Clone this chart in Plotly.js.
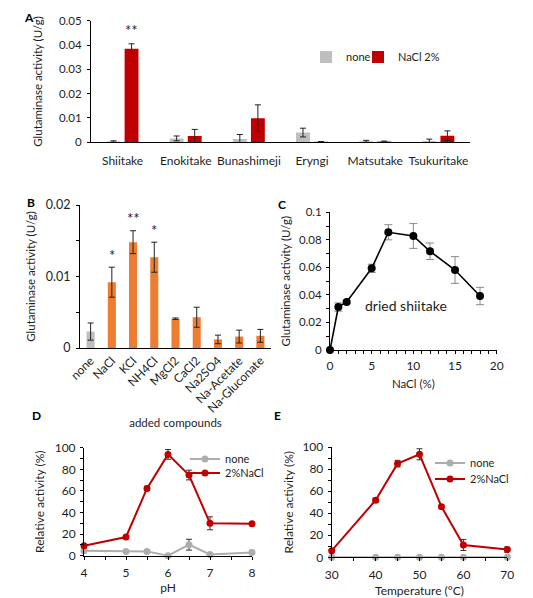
<!DOCTYPE html>
<html>
<head>
<meta charset="utf-8">
<script src="https://cdn.plot.ly/plotly-3.0.1.min.js"></script>
<style>
  html, body { margin: 0; padding: 0; background: #fff; }
  #chart { width: 533px; height: 598px; }
</style>
</head>
<body>
<div id="chart"></div>
<script>
// Panel A — glutaminase activity per mushroom, with / without 2% NaCl
const mushrooms = ['Shiitake', 'Enokitake', 'Bunashimeji', 'Eryngi', 'Matsutake', 'Tsukuritake'];
const noneA = [0.0003, 0.0016, 0.0014, 0.0040, 0.0004, 0.0005];
const noneAErr = [0.0003, 0.0010, 0.0018, 0.0018, 0.0004, 0.0008];
const naclA = [0.0385, 0.0026, 0.0099, 0.0002, 0.0003, 0.0027];
const naclAErr = [0.0020, 0.0027, 0.0055, 0.0001, 0.0002, 0.0020];
const starsA = ['**', '', '', '', '', ''];

// Panel B — added compounds
const compounds = ['none', 'NaCl', 'KCl', 'NH4Cl', 'MgCl2', 'CaCl2', 'Na2SO4', 'Na-Acetate', 'Na-Gluconate'];
const compVals = [0.0023, 0.0092, 0.0148, 0.0127, 0.0041, 0.0043, 0.0012, 0.0016, 0.0017];
const compErr = [0.0012, 0.0021, 0.0016, 0.0021, 0.0001, 0.0014, 0.0006, 0.0009, 0.0009];
const starsB = ['', '*', '**', '*', '', '', '', '', ''];

// Panel C — NaCl concentration, dried shiitake
const naclPct = [0, 1, 2, 5, 7, 10, 12, 15, 18];
const shiitakeAct = [0, 0.0312, 0.0349, 0.0593, 0.0855, 0.0828, 0.0717, 0.0581, 0.0392];
const shiitakeErr = [0, 0.0030, 0.0010, 0.0030, 0.0055, 0.0090, 0.0060, 0.0097, 0.0063];

// Panel D — pH
const pH = [4, 5, 5.5, 6, 6.5, 7, 8];
const pHNone = [4.6, 4.0, 4.0, 0, 10.2, 1.2, 3.0];
const pHNoneErr = [1.0, 0.5, 1.5, 0.5, 5.0, 0.5, 2.0];
const pHNacl = [9.3, 17.3, 62.3, 93.8, 74.7, 30.0, 29.6];
const pHNaclErr = [1.0, 1.0, 2.0, 4.5, 4.5, 6.0, 1.0];

// Panel E — temperature
const temps = [30, 40, 45, 50, 55, 60, 70];
const tempNone = [0, 0, 0, 0, 0, 0, 0];
const tempNacl = [6.0, 51.7, 84.9, 93.4, 45.9, 11.2, 7.0];
const tempNaclErr = [1.0, 2.0, 3.0, 5.0, 1.5, 5.0, 2.5];

const W = 533, H = 598;
const FONT = 'Lato, "Liberation Sans", Arial, sans-serif';
const TXT = '#1e1e1e';
const RED = '#C00000', GRAY = '#BFBFBF', ORANGE = '#ED7D31', LGRAY = '#ADADAD';

// pixel box -> paper domain
const dx = (a, b) => [a / W, b / W];
const dy = (bottom, top) => [1 - bottom / H, 1 - top / H];
const px = (v) => v / W;
const py = (v) => 1 - v / H;

const errBar = (arr, color, w) => ({ type: 'data', array: arr, visible: true, color: color || '#222', thickness: 1, width: w || 3 });

const traces = [
  // A
  { type: 'bar', x: mushrooms, y: noneA, name: 'none', xaxis: 'x', yaxis: 'y',
    width: 0.22, offset: -0.254, marker: { color: GRAY }, error_y: errBar(noneAErr), legend: 'legend' },
  { type: 'bar', x: mushrooms, y: naclA, name: 'NaCl 2%', xaxis: 'x', yaxis: 'y',
    width: 0.22, offset: 0.032, marker: { color: RED }, error_y: errBar(naclAErr), legend: 'legend2' },
  // B
  { type: 'bar', x: compounds, y: compVals, xaxis: 'x2', yaxis: 'y2', showlegend: false,
    width: 0.38, offset: -0.19, marker: { color: compounds.map((c) => (c === 'none' ? GRAY : ORANGE)) },
    error_y: errBar(compErr) },
  // C
  { type: 'scatter', mode: 'lines+markers', x: naclPct, y: shiitakeAct, xaxis: 'x3', yaxis: 'y3', showlegend: false,
    line: { color: '#000', width: 1.6 }, marker: { color: '#000', size: 8 }, cliponaxis: false,
    error_y: errBar(shiitakeErr, '#8a8a8a', 4) },
  // D
  { type: 'scatter', mode: 'lines+markers', x: pH, y: pHNone, name: 'none', xaxis: 'x4', yaxis: 'y4',
    line: { color: LGRAY, width: 2 }, marker: { color: LGRAY, size: 7 }, cliponaxis: false,
    error_y: errBar(pHNoneErr, '#333', 3), legend: 'legend3' },
  { type: 'scatter', mode: 'lines+markers', x: pH, y: pHNacl, name: '2%NaCl', xaxis: 'x4', yaxis: 'y4',
    line: { color: RED, width: 2 }, marker: { color: RED, size: 7 }, cliponaxis: false,
    error_y: errBar(pHNaclErr, '#333', 3), legend: 'legend4' },
  // E
  { type: 'scatter', mode: 'lines+markers', x: temps, y: tempNone, name: 'none', xaxis: 'x5', yaxis: 'y5',
    line: { color: LGRAY, width: 2 }, marker: { color: LGRAY, size: 7 }, cliponaxis: false, legend: 'legend5' },
  { type: 'scatter', mode: 'lines+markers', x: temps, y: tempNacl, name: '2%NaCl', xaxis: 'x5', yaxis: 'y5',
    line: { color: RED, width: 2 }, marker: { color: RED, size: 7 }, cliponaxis: false,
    error_y: errBar(tempNaclErr, '#333', 3), legend: 'legend6' },
];

const axBase = {
  showline: true, linecolor: '#000', linewidth: 1, showgrid: false, zeroline: false,
  ticks: 'outside', ticklen: 3, tickcolor: '#000', tickfont: { size: 11, color: TXT },
  fixedrange: true,
};
const tf = (size) => ({ size, color: TXT });
const minorT = (dtick) => ({ dtick, ticks: 'outside', ticklen: 3, tickcolor: '#000' });
const title = (text, standoff, size) => ({ text, standoff, font: { size: size || 11.5, color: TXT } });
const legendAt = (x, y) => ({
  x: px(x), y: py(y), xanchor: 'left', yanchor: 'middle', bgcolor: 'rgba(0,0,0,0)',
  font: { size: 11, color: TXT, family: FONT }, itemwidth: 30,
});

const annotations = [];
// panel letters
[['A', 22, 8], ['B', 25, 193], ['C', 282, 195], ['D', 30, 425], ['E', 277, 425]].forEach(([t, x, y]) => {
  annotations.push({ text: '<b>' + t + '</b>', xref: 'paper', yref: 'paper', x: px(x), y: py(y),
    showarrow: false, font: { size: 12, color: '#000' } });
});
// significance stars
starsA.forEach((s, i) => {
  if (!s) return;
  annotations.push({ text: s, xref: 'x', yref: 'y', x: mushrooms[i], y: naclA[i] + naclAErr[i] + 0.0012,
    xshift: 9, yanchor: 'bottom', showarrow: false, font: { size: 15, color: TXT } });
});
starsB.forEach((s, i) => {
  if (!s) return;
  annotations.push({ text: s, xref: 'x2', yref: 'y2', x: compounds[i], y: compVals[i] + compErr[i] + 0.0002,
    yanchor: 'bottom', showarrow: false, font: { size: 15, color: TXT } });
});
annotations.push({ text: 'dried shiitake', xref: 'x3', yref: 'y3', x: 9.1, y: 0.032,
  showarrow: false, font: { size: 14, color: TXT } });

const layout = {
  width: W, height: H,
  margin: { l: 0, r: 0, t: 0, b: 0 },
  paper_bgcolor: '#fff', plot_bgcolor: 'rgba(0,0,0,0)',
  font: { family: FONT, size: 11, color: TXT },
  showlegend: true,
  legend: legendAt(306, 57),
  legend2: legendAt(358, 57),
  legend3: legendAt(185, 459),
  legend4: legendAt(185, 473),
  legend5: legendAt(430, 463),
  legend6: legendAt(430, 479),

  // A
  xaxis: { ...axBase, domain: dx(91, 470), anchor: 'y', type: 'category', range: [-0.5, 5.5], ticks: '',
    ticklabelstandoff: 7, tickfont: tf(12) },
  yaxis: { ...axBase, domain: dy(142.3, 20.7), anchor: 'x', range: [0, 0.05], dtick: 0.01, ticklabelstandoff: 3,
    tickfont: tf(11.5), title: title('Glutaminase activity (U/g)', 13) },
  // B
  xaxis2: { ...axBase, domain: dx(80, 271), anchor: 'y2', type: 'category', range: [-0.5, 8.5], ticks: '', tickangle: -45,
    tickfont: tf(12), title: title('added compounds', 4) },
  yaxis2: { ...axBase, domain: dy(348, 205), anchor: 'x2', range: [0, 0.02], dtick: 0.01, ticklabelstandoff: 3,
    tickfont: tf(12.5), minor: minorT(0.005), title: title('Glutaminase activity (U/g)', 7) },
  // C
  xaxis3: { ...axBase, domain: dx(330, 496.7), anchor: 'y3', range: [0, 20], dtick: 5, ticklabelstandoff: 2,
    tickfont: tf(12), minor: minorT(1), title: title('NaCl (%)', 7) },
  yaxis3: { ...axBase, domain: dy(350, 212.3), anchor: 'x3', range: [0, 0.1], dtick: 0.02, ticklabelstandoff: 2,
    tickfont: tf(11.5), minor: minorT(0.01), title: title('Glutaminase activity (U/g)', 5) },
  // D
  xaxis4: { ...axBase, domain: dx(84, 252), anchor: 'y4', range: [4, 8], dtick: 1, ticklabelstandoff: 3,
    tickfont: tf(12), minor: minorT(0.5), title: title('pH', 2, 12) },
  yaxis4: { ...axBase, domain: dy(555.7, 447.7), anchor: 'x4', range: [0, 100], dtick: 20, ticklabelstandoff: 2,
    tickfont: tf(12), minor: minorT(10), title: title('Relative activity (%)', 7, 12) },
  // E
  xaxis5: { ...axBase, domain: dx(331.7, 507.3), anchor: 'y5', range: [30, 70], dtick: 10, ticklabelstandoff: 3,
    tickfont: tf(12), minor: minorT(5), title: title('Temperature (°C)', 7, 12) },
  yaxis5: { ...axBase, domain: dy(557.3, 447), anchor: 'x5', range: [0, 100], dtick: 20, ticklabelstandoff: 2,
    tickfont: tf(12), minor: minorT(10), title: title('Relative activity (%)', 6, 12) },

  annotations,
};

Plotly.newPlot('chart', traces, layout, { staticPlot: true, displayModeBar: false });
</script>
</body>
</html>
